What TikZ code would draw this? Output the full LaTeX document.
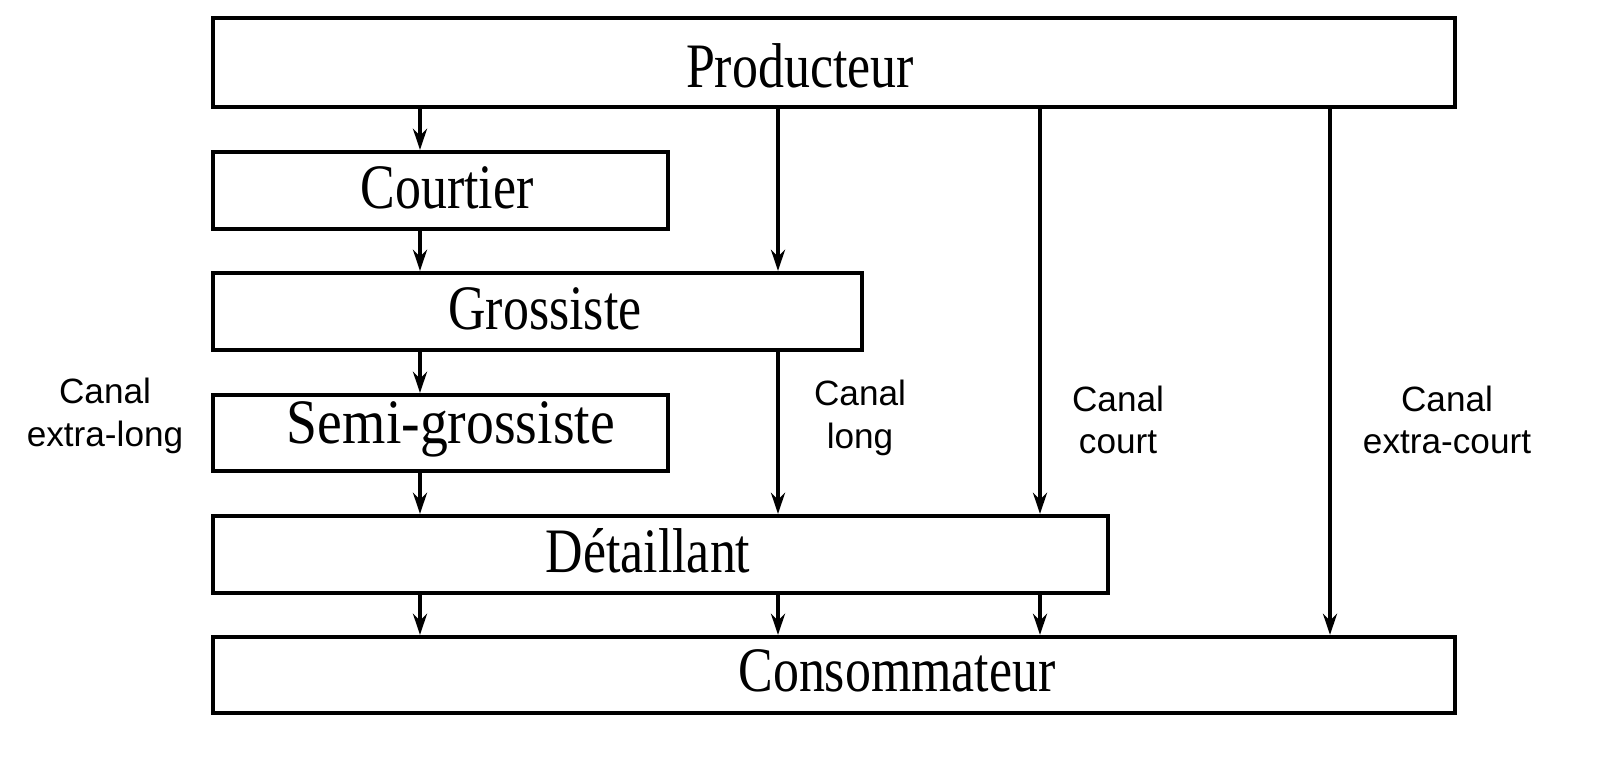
\documentclass[tikz,border=0pt]{standalone}
\usepackage{fontspec}
\setmainfont{Liberation Serif}
\newfontfamily\labfont{Liberation Sans}
\usetikzlibrary{arrows.meta}
\begin{document}
\begin{tikzpicture}[x=0.01cm,y=-0.01cm,
  box/.style={draw,line width=1.2pt,inner sep=0pt},
  bt/.style={font=\fontsize{18}{22}\selectfont},
  lab/.style={font=\labfont\fontsize{10}{12}\selectfont,align=center},
  arr/.style={-{Stealth[length=6pt,width=4pt]},line width=1pt}]
\useasboundingbox (0,0) rectangle (1600,774);
\node[box,minimum width=12.42cm,minimum height=0.89cm] (P) at (834,62.5) {};
\node[bt] at (800,66) {\scalebox{0.82}[1]{Producteur}};
\node[box,minimum width=4.55cm,minimum height=0.77cm] (C) at (440.5,190.5) {};
\node[bt] at (447,188) {\scalebox{0.82}[1]{Courtier}};
\node[box,minimum width=6.49cm,minimum height=0.77cm] (G) at (537.5,311.5) {};
\node[bt] at (545,309) {\scalebox{0.82}[1]{Grossiste}};
\node[box,minimum width=4.55cm,minimum height=0.76cm] (S) at (440.5,433) {};
\node[bt] at (451,429) {\scalebox{0.88}[1]{Semi-grossiste}};
\node[box,minimum width=8.95cm,minimum height=0.77cm] (D) at (660.5,554.5) {};
\node[bt] at (648,551) {\scalebox{0.82}[1]{Détaillant}};
\node[box,minimum width=12.42cm,minimum height=0.76cm] (K) at (834,675) {};
\node[bt] at (897,671) {\scalebox{0.82}[1]{Consommateur}};
\coordinate (c1) at (420,0);
\coordinate (c2) at (778,0);
\coordinate (c3) at (1040,0);
\coordinate (c4) at (1330,0);
\draw[arr] (P.south -| c1) -- (C.north -| c1);
\draw[arr] (C.south -| c1) -- (G.north -| c1);
\draw[arr] (G.south -| c1) -- (S.north -| c1);
\draw[arr] (S.south -| c1) -- (D.north -| c1);
\draw[arr] (D.south -| c1) -- (K.north -| c1);
\draw[arr] (P.south -| c2) -- (G.north -| c2);
\draw[arr] (G.south -| c2) -- (D.north -| c2);
\draw[arr] (D.south -| c2) -- (K.north -| c2);
\draw[arr] (P.south -| c3) -- (D.north -| c3);
\draw[arr] (D.south -| c3) -- (K.north -| c3);
\draw[arr] (P.south -| c4) -- (K.north -| c4);
\node[lab] (l1) at (105,416) {Canal\\extra-long};
\node[lab] (l2) at (860,418) {Canal\\long};
\node[lab] (l3) at (1118,420) {Canal\\court};
\node[lab] (l4) at (1447,420) {Canal\\extra-court};
\end{tikzpicture}
\end{document}
